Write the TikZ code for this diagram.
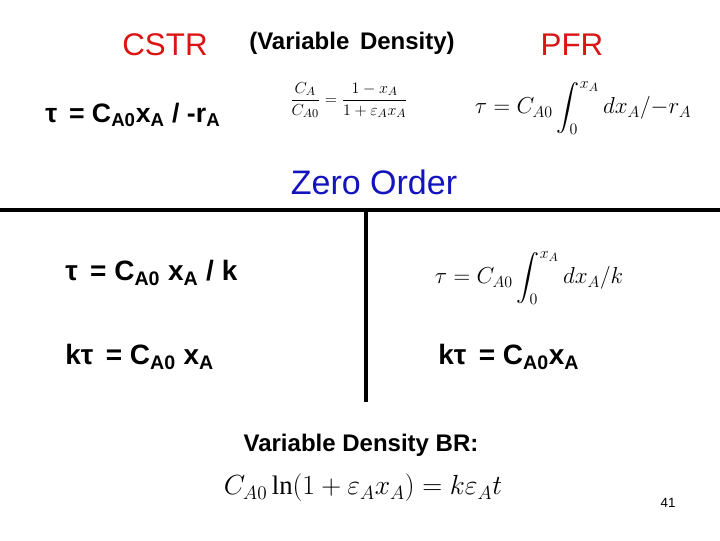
\documentclass[tikz,border=0pt]{standalone}
\usepackage{amsmath}
\usepackage{fontspec}
\setmainfont{Liberation Serif}
\newfontfamily\arial{Liberation Sans}
\definecolor{redt}{RGB}{220,20,20}
\definecolor{bluet}{RGB}{20,20,190}
\begin{document}
\begin{tikzpicture}[x=0.75pt,y=-0.75pt,
  lab/.style={font=\arial\bfseries\fontsize{21}{24}\selectfont,inner sep=0pt},
  head/.style={font=\arial\fontsize{23.5}{26}\selectfont,text=redt,inner sep=0pt},
  mid/.style={font=\arial\bfseries\fontsize{18}{21}\selectfont,inner sep=0pt},
  eq/.style={inner sep=0pt},
  rule/.style={line width=2.4pt}]
\useasboundingbox[fill=white] (0,0) rectangle (720,540);
\node[head] (cstr) at (165,45) {CSTR};
\node[mid] (vd) at (352,43) {(Variable\, Density)};
\node[head] (pfr) at (572,45) {PFR};
\node[lab,anchor=west,font=\arial\bfseries\fontsize{20}{24}\selectfont] (t1) at (45,115) {τ\, = C\textsubscript{A0}x\textsubscript{A} / -r\textsubscript{A}};
\node[eq] (frac) at (349,100) {\fontsize{12.5}{15}\selectfont $\dfrac{C_A}{C_{A0}}=\dfrac{1-x_A}{1+\varepsilon_A x_A}$};
\node[eq] (pint) at (583,108) {\fontsize{18}{22}\selectfont $\tau = C_{A0}\displaystyle\int_0^{x_A} dx_A/{-r_A}$};
\node[font=\arial\fontsize{25.5}{28}\selectfont,text=bluet,inner sep=0pt] (zo) at (374,182) {Zero Order};
\coordinate (hl) at (0,210); \coordinate (hr) at (720,210);
\coordinate (vt) at (366,210); \coordinate (vb) at (366,402);
\draw[rule] (hl) -- (hr);
\draw[rule] (vt) -- (vb);
\node[lab,anchor=west] (t2) at (65,273) {τ\, = C\textsubscript{A0} x\textsubscript{A} / k};
\node[eq] (zint) at (529,278) {\fontsize{18}{22}\selectfont $\tau = C_{A0}\displaystyle\int_0^{x_A} dx_A/k$};
\node[lab,anchor=west] (k1) at (65,357) {kτ\, = C\textsubscript{A0} x\textsubscript{A}};
\node[lab,anchor=west] (k2) at (438,357) {kτ\, = C\textsubscript{A0}x\textsubscript{A}};
\node[mid] (br) at (361,445) {Variable Density BR:};
\node[eq] (breq) at (363,488) {\fontsize{20}{24}\selectfont $C_{A0}\ln(1+\varepsilon_A x_A)=k\varepsilon_A t$};
\node[font=\arial\fontsize{10}{12}\selectfont,inner sep=0pt] (pg) at (668,503) {41};
\end{tikzpicture}
\end{document}
